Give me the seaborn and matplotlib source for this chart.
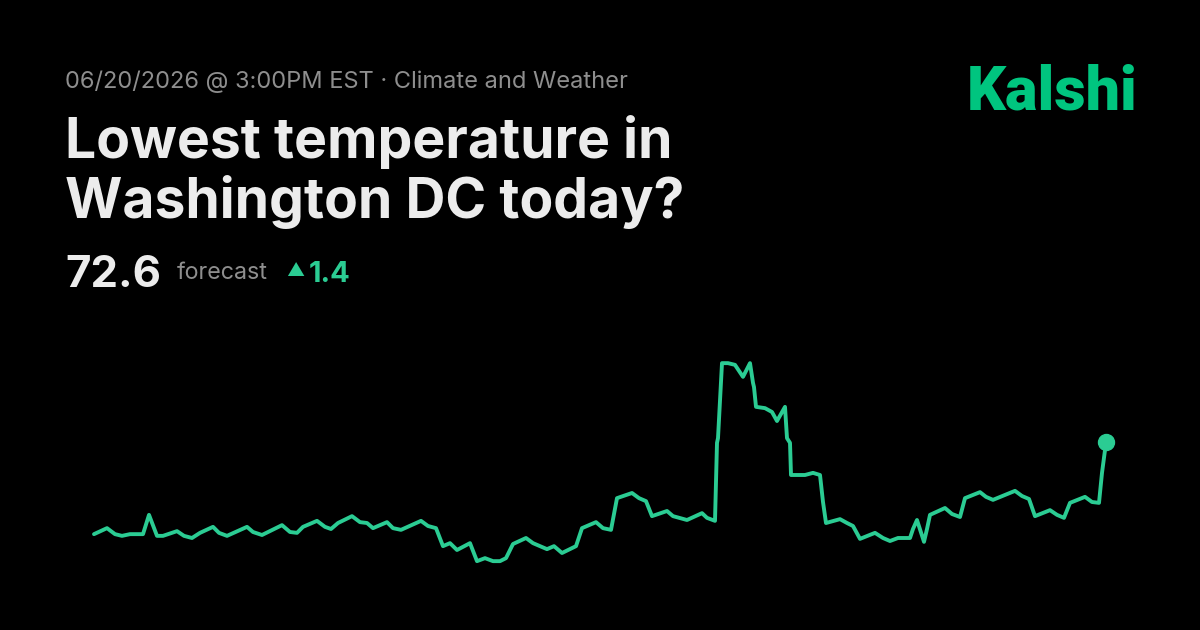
import numpy as np
import pandas as pd
import matplotlib
matplotlib.use('Agg')
import matplotlib.pyplot as plt
import seaborn as sns

# ---------------- data ----------------
# time step (relative, start of window = 0) and forecast low temperature (°F)
t_step = [0, 13, 21, 28, 36, 49, 55, 63, 69, 83, 90, 98, 106, 119, 125, 133,
          153, 159, 168, 188, 196, 203, 209, 223, 231, 237, 244, 258, 266, 273,
          279, 293, 299, 307, 327, 334, 342, 349, 356, 363, 376, 383, 391, 399,
          406, 412, 419, 432, 439, 453, 460, 468, 482, 488, 502, 509, 517, 523,
          538, 545, 552, 558, 573, 579, 593, 608, 613, 621, 623, 624, 628, 634,
          641, 649, 656, 659, 660, 662, 671, 678, 683, 691, 693, 696, 697, 711,
          719, 726, 729, 732, 746, 753, 759, 766, 781, 789, 796, 804, 816, 819,
          823, 830, 833, 836, 851, 858, 866, 871, 886, 892, 899, 921, 928, 935,
          941, 956, 963, 970, 976, 991, 998, 1005, 1008, 1011, 1012]
temp = [70.45, 70.59, 70.45, 70.41, 70.45, 70.45, 70.90, 70.41, 70.41, 70.52,
        70.41, 70.36, 70.48, 70.62, 70.48, 70.41, 70.62, 70.50, 70.43, 70.66,
        70.50, 70.48, 70.62, 70.76, 70.62, 70.57, 70.71, 70.87, 70.73, 70.71,
        70.59, 70.73, 70.59, 70.55, 70.76, 70.64, 70.59, 70.17, 70.24, 70.08,
        70.24, 69.82, 69.89, 69.82, 69.82, 69.89, 70.22, 70.36, 70.24, 70.10,
        70.17, 70.01, 70.17, 70.59, 70.73, 70.59, 70.55, 71.29, 71.41, 71.29,
        71.22, 70.87, 70.99, 70.87, 70.78, 70.94, 70.83, 70.76, 72.58, 72.69,
        74.44, 74.44, 74.40, 74.12, 74.44, 73.98, 73.88, 73.42, 73.39, 73.30,
        73.09, 73.42, 72.69, 72.58, 71.83, 71.83, 71.88, 71.83, 71.20, 70.71,
        70.80, 70.71, 70.64, 70.34, 70.48, 70.36, 70.29, 70.36, 70.36, 70.57,
        70.78, 70.27, 70.57, 70.90, 71.06, 70.92, 70.85, 71.29, 71.43, 71.32,
        71.25, 71.46, 71.34, 71.27, 70.87, 71.01, 70.90, 70.83, 71.18, 71.32,
        71.20, 71.18, 71.88, 72.41, 72.60]

meta_text = "06/20/2026 @ 3:00PM EST \u00b7 Climate and Weather"
title_lines = ["Lowest temperature in", "Washington DC today?"]
current_value = "72.6"
value_label = "forecast"
change_value = "1.4"
brand = "Kalshi"

df = pd.DataFrame({'t': t_step, 'temp': temp})

GREEN = '#2bcc93'
BRAND_GREEN = '#00c57f'
WHITE = '#ececec'
GREY = '#8e8e8e'

sns.set_theme(style='dark', rc={'axes.facecolor': 'black', 'figure.facecolor': 'black'})
plt.rcParams['font.family'] = ['Inter', 'DejaVu Sans']

W, H = 1200, 630
fig = plt.figure(figsize=(12, 6.3), dpi=100)
fig.patch.set_facecolor('black')


def fx(px):
    return px / W


def fy(py):
    return 1 - py / H


# line chart area
ax = fig.add_axes([fx(94), fy(580), fx(1106) - fx(94), (580 - 340) / H])
ax.set_facecolor('black')
sns.lineplot(data=df, x='t', y='temp', ax=ax, color=GREEN, linewidth=2.8)
ax.plot(df['t'].iloc[-1], df['temp'].iloc[-1], 'o', color=GREEN,
        markersize=11.5, clip_on=False)
for ln in ax.lines:
    ln.set_clip_on(False)
ax.set_xlim(0, 1012)
ax.set_ylim(69.38, 74.98)
ax.axis('off')

# header texts
fig.text(fx(65), fy(88), meta_text, color=GREY, fontsize=17, va='baseline')
fig.text(fx(65), fy(158), title_lines[0], color=WHITE, fontsize=39.8,
         fontweight='bold', va='baseline')
fig.text(fx(65), fy(218), title_lines[1], color=WHITE, fontsize=39.8,
         fontweight='bold', va='baseline')

fig.text(fx(65), fy(287), current_value, color=WHITE, fontsize=31.5,
         fontweight='bold', va='baseline')
fig.text(fx(177), fy(279), value_label, color=GREY, fontsize=16.8, va='baseline')
fig.text(fx(286), fy(276), "\u25b2", color=GREEN, fontsize=13, va='baseline')
fig.text(fx(309), fy(282), change_value, color=GREEN, fontsize=21,
         fontweight='bold', va='baseline')

fig.text(fx(1137), fy(110), brand, color=BRAND_GREEN, fontsize=44,
         fontweight='heavy', ha='right', va='baseline', family=['Roboto', 'DejaVu Sans'])

fig.savefig('out.png', dpi=100, facecolor='black')
